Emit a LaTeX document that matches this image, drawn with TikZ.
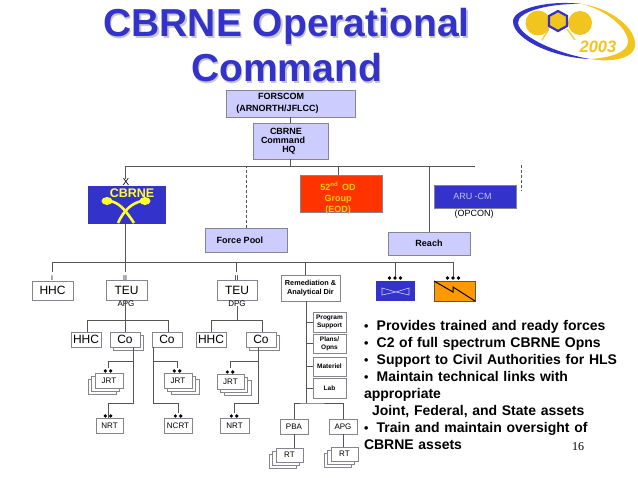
\documentclass[tikz,border=0pt]{standalone}
\usepackage{fontspec}
\setmainfont{Liberation Sans}
\newfontfamily\pagefont{Liberation Serif}
\usetikzlibrary{shadows}
\definecolor{boxlav}{HTML}{CCCCFF}
\definecolor{boxgray}{HTML}{858590}
\definecolor{linegray}{HTML}{555555}
\definecolor{unitblue}{HTML}{3333CC}
\definecolor{unitred}{HTML}{FF3300}
\definecolor{unitorange}{HTML}{FF9900}
\definecolor{unityellow}{HTML}{FFFF33}
\definecolor{textgold}{HTML}{FFCC00}
\definecolor{logogold}{HTML}{F2C41E}
\newcommand{\fsz}[1]{\fontsize{#1}{#1}\selectfont}
\newcommand{\blt}{{\fontsize{12.5}{12.5}\selectfont •}\hspace{8.3pt}}
\begin{document}
\begin{tikzpicture}[x=1pt, y=-1pt, every node/.style = {shape=rectangle, inner sep=0pt, outer sep=0pt, align=center}]
	\tikzstyle{sz}=[minimum width=#1]
	\tikzstyle{ht}=[minimum height=#1]
	\tikzstyle{wirebox}=[draw=boxgray, line width=0.9pt, fill=white]
	\tikzstyle{lavbox}=[wirebox, fill=boxlav]
	\tikzstyle{stackleft}=[wirebox, double copy shadow={shadow xshift=-3.5pt, shadow yshift=-3pt}]
	\tikzstyle{stackright}=[wirebox, double copy shadow={shadow xshift=3.5pt, shadow yshift=-3pt}]
	\tikzstyle{stackone}=[wirebox, copy shadow={shadow xshift=3.5pt, shadow yshift=-3pt}]
	\tikzstyle{big}=[font=\fsz{12}]
	\tikzstyle{small}=[font=\fsz{8}]
	\tikzstyle{boldsmall}=[font=\bfseries\fsz{9}]
	\tikzstyle{tiny}=[font=\bfseries\fsz{6.5}]
	\tikzstyle{conn}=[draw=linegray, line width=0.9pt]
	\useasboundingbox (0,0) rectangle (638,478);

	\node[font=\bfseries\fontsize{39}{45}\selectfont, text=gray!45] (titleback) at (288,47) {CBRNE Operational\\Command};
	\node[font=\bfseries\fontsize{39}{45}\selectfont, text=unitblue] (title) at (286.5,45.5) {CBRNE Operational\\Command};

	\node[lavbox, sz=129, ht=27] (forscom) at (290.5,103.5) {};
	\node[boldsmall] (forscomtxt) at (277.5,103.5) {\hspace*{7pt}FORSCOM\\[3pt](ARNORTH/JFLCC)};
	\node[lavbox, sz=75, ht=36] (cmdhq) at (290.5,141) {};
	\node[boldsmall] (cmdhqtxt) at (283,141.5) {\hspace*{6pt}CBRNE\\Command\\\hspace*{12pt}HQ};
	\node[fill=unitblue, sz=78, ht=38] (cbrne) at (127,205) {};
	\node[font=\fsz{10}] (xmark) at (126,182) {X};
	\node[lavbox, sz=82, ht=24] (forcepool) at (246,240) {};
	\node[boldsmall] (forcepooltxt) at (240,240.5) {Force Pool};
	\node[draw=boxgray, line width=0.9pt, fill=unitred, sz=82, ht=37] (odgroup) at (341,193.5) {};
	\node[font=\bfseries\fsz{9}, text=textgold] (odtxt) at (338,198) {52\textsuperscript{nd} \,OD\\[2pt]Group\\[2pt](EOD)};
	\node[draw=boxgray, line width=0.9pt, fill=unitblue, sz=82, ht=23] (aru) at (475,196.5) {};
	\node[font=\fsz{9}, text=boxlav!85!gray] (arutxt) at (472.5,196.5) {ARU -CM};
	\node[font=\fsz{9}] (opcon) at (474,214.5) {(OPCON)};
	\node[lavbox, sz=82, ht=23, boldsmall] (reach) at (429,243.5) {Reach};

	\coordinate (bustop) at (125,166);
	\coordinate (bustopend) at (475,166);
	\coordinate (dashtop) at (521.5,165);
	\coordinate (dashend) at (521.5,191);
	\draw[conn] (bustop) -- (bustopend);
	\draw[conn] (forscom.south) -- (cmdhq.north);
	\draw[conn] (cmdhq.south) -- (cmdhq.south |- bustop);
	\draw[conn] (bustop) -- (xmark.north -| bustop);
	\draw[conn, densely dashed, line width=0.8pt] (forcepool.north) -- (forcepool.north |- bustop);
	\draw[conn] (odtxt.north |- odgroup.north) -- (odtxt.north |- bustop);
	\draw[conn] (reach.north) -- (reach.north |- bustop);
	\draw[conn, densely dashed] (dashtop) -- (dashend);

	\coordinate (busmid) at (52,262);
	\coordinate (busmidend) at (453,262);
	\coordinate (cbrnefoot) at (125,224);
	\draw[conn] (busmid) -- (busmidend);
	\draw[conn] (cbrnefoot) -- (cbrnefoot |- busmid);

	\node[wirebox, sz=41, ht=19, big] (hhcmain) at (52.5,290.5) {HHC};
	\node[wirebox, sz=41, ht=20, big] (teua) at (126.5,290) {TEU};
	\node[small] (apgtxt) at (126,303.5) {APG};
	\node[wirebox, sz=40, ht=20, big] (teub) at (237,290) {TEU};
	\node[small] (dpgtxt) at (237,303.5) {DPG};
	\node[wirebox, sz=59, ht=26, font=\bfseries\fsz{7.3}] (remed) at (310.5,288) {Remediation \&\\[2pt]Analytical Dir};
	\node[fill=unitblue, sz=39, ht=20] (bluebox) at (395.5,291) {};
	\node[draw=linegray, line width=0.5pt, fill=unitorange, sz=41, ht=20] (orangebox) at (454.5,291) {};

	\node[font=\fsz{7}] (ticka) at (52,278) {I};
	\node[font=\fsz{7}] (tickb) at (125,278) {II};
	\node[font=\fsz{7}] (tickc) at (236.5,278) {II};
	\draw[conn] (ticka |- busmid) -- (52,272);
	\draw[conn] (tickb |- busmid) -- (125,272);
	\draw[conn] (tickc |- busmid) -- (236.5,272);
	\draw[conn] (remed.north -| 305,0) -- (305,262);
	\draw[conn] (395,262) -- (395,278);
	\draw[conn] (453,262) -- (453,278);
	\foreach \dotx in {389.5,395,400.5,447.5,453,458.5}
		\fill (\dotx,278) circle (1.9);

	\node[wirebox, sz=30, ht=15, big] (hhca) at (86,339.5) {HHC};
	\node[stackone, sz=30, ht=15, big] (coa) at (125,339.5) {Co};
	\node[wirebox, sz=30, ht=15, big] (cob) at (167,339.5) {Co};
	\node[wirebox, sz=30, ht=15, big] (hhcb) at (211,339.5) {HHC};
	\node[stackone, sz=30, ht=15, big] (coc) at (261,339.5) {Co};

	\coordinate (busteua) at (87,320);
	\coordinate (busteuaend) at (168,320);
	\coordinate (busteub) at (211,320);
	\coordinate (busteubend) at (262,320);
	\draw[conn] (hhca.north -| busteua) -- (busteua) -- (busteuaend) -- (busteuaend |- cob.north);
	\draw[conn] (coa.north) -- (teua.south -| coa.north);
	\draw[conn] (hhcb.north -| busteub) -- (busteub) -- (busteubend) -- (busteubend |- coc.north);
	\draw[conn] (dpgtxt.south -| teub) -- (dpgtxt.south |- busteub);

	\node[stackleft, sz=28, ht=15, small] (jrta) at (109,380.5) {JRT};
	\node[wirebox, sz=27, ht=15, small] (nrta) at (109.5,425.5) {NRT};
	\node[stackright, sz=28, ht=15, small] (jrtb) at (178,380.5) {JRT};
	\node[wirebox, sz=28, ht=15, small] (ncrt) at (178,425.5) {NCRT};
	\node[stackright, sz=27, ht=15, small] (jrtc) at (230.5,381.5) {JRT};
	\node[wirebox, sz=29, ht=15, small] (nrtb) at (234.5,425.5) {NRT};
	\foreach \dotx/\doty in {108/371,108/416,177/371,178/416,230/372,234/416} {
		\fill (\dotx-2.7,\doty) circle (1.8);
		\fill (\dotx+2.7,\doty) circle (1.8);
	}

	\draw[conn] (133,347) -- (133,403) -| (nrta.north -| 108,0);
	\draw[conn] (133,361) -| (108,368);
	\draw[conn] (153,347) -- (153,403) -| (178,413);
	\draw[conn] (153,361) -| (177,368);
	\draw[conn] (258,347) -- (258,403) -| (234,413);
	\draw[conn] (258,361) -| (230,368);

	\node[wirebox, sz=33, ht=20, tiny] (progsup) at (329.5,322) {Program\\[1.5pt]Support};
	\node[wirebox, sz=33, ht=19, tiny] (plans) at (329.5,343.5) {Plans/\\[1.5pt]Opns};
	\node[wirebox, sz=33, ht=19, tiny] (materiel) at (329.5,366.5) {Materiel};
	\node[wirebox, sz=33, ht=20, tiny] (lab) at (329.5,388) {Lab};
	\node[wirebox, sz=28, ht=15, small] (pba) at (294,426.5) {PBA};
	\node[wirebox, sz=28, ht=15, small] (apgbox) at (343,426.5) {APG};
	\node[stackleft, sz=27, ht=14, small] (rta) at (289.5,455) {RT};
	\node[stackleft, sz=27, ht=14, small] (rtb) at (344.5,454) {RT};

	\coordinate (trunkend) at (306,403);
	\draw[conn] (trunkend |- remed.south) -- (trunkend);
	\draw[conn] (trunkend |- progsup.west) -- (progsup.west);
	\draw[conn] (trunkend |- plans.west) -- (plans.west);
	\draw[conn] (trunkend |- materiel.west) -- (materiel.west);
	\draw[conn] (trunkend |- lab.west) -- (lab.west);
	\draw[conn] (pba.north) |- (trunkend) -| (apgbox.north);
	\draw[conn] (pba.south) -- (rta.north -| pba.south);
	\draw[conn] (apgbox.south) -- (rtb.north -| apgbox.south);

	\draw[unityellow, line width=2.6pt] (110,201) .. controls (119,203) and (124,208) .. (134,223);
	\draw[unityellow, line width=2.6pt] (142,201) .. controls (132,203) and (124,210) .. (118,223);
	\fill[unityellow] (107,201) ellipse (5.5 and 4);
	\fill[unityellow] (145,201) ellipse (5.5 and 4);
	\node[font=\bfseries\fsz{12.5}, text=unityellow] (cbrnetxt) at (132,193.5) {CBRNE};

	\draw[boxlav, line width=0.6pt] (382,288) -- (396,292) -- (409,288) -- (409,295) -- (396,292) -- (382,295) -- cycle;
	\draw[black, line width=1pt] (434,281) -- (453,292) -- (453,287) -- (475,301);

	\node[anchor=north west, text width=270, align=left, font=\bfseries\fontsize{14}{17}\selectfont] (bullets) at (364,320.5) {%
		\blt Provides trained and ready forces\\
		\blt C2 of full spectrum CBRNE Opns\\
		\blt Support to Civil Authorities for HLS\\
		\blt Maintain technical links with\\
		appropriate\\
		\hspace*{8pt}Joint, Federal, and State assets\\
		\blt Train and maintain oversight of\\
		CBRNE assets};
	\node[font=\pagefont\fsz{12}] (pagenum) at (578,447) {16};

	\fill[unitblue] (582,4) .. controls (550,0) and (512,8) .. (513,22) .. controls (514,40) and (555,58) .. (590,59) .. controls (560,54) and (520,38) .. (518,23) .. controls (517,11) and (552,3) .. (582,4) -- cycle;
	\fill[logogold] (582,4) .. controls (610,8) and (637,28) .. (635,46) .. controls (634,58) and (612,63) .. (590,59) .. controls (610,58) and (628,52) .. (628,42) .. controls (628,28) and (606,10) .. (582,4) -- cycle;
	\draw[logogold!80!white, line width=1.5pt] (549,29) -- (542,40);
	\draw[logogold!80!white, line width=1.5pt] (567,29) -- (575,40);
	\fill[logogold] (538,23) circle (12.5);
	\fill[logogold] (580,23) circle (12);
	\draw[unitblue, line width=2.2pt, fill=logogold] (558,11) -- (567,16) -- (567,26) -- (558,31) -- (549,26) -- (549,16) -- cycle;
	\node[font=\bfseries\itshape\fsz{16.5}, text=logogold] (logoyear) at (598,46.5) {2003};
\end{tikzpicture}
\end{document}
